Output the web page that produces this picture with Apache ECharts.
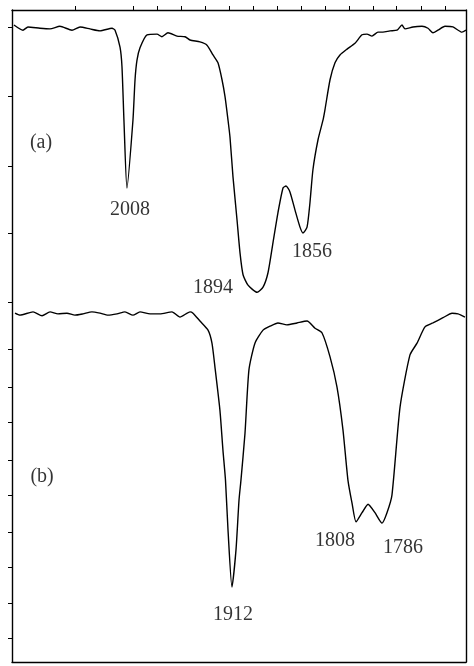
<!DOCTYPE html>
<html>
<head>
<meta charset="utf-8">
<title>IR spectra (a) and (b)</title>
<script src="https://cdn.jsdelivr.net/npm/echarts@6/dist/echarts.min.js"></script>
<style>
  html, body { margin: 0; padding: 0; background: #fff; }
  #chart { width: 474px; height: 666px; }
</style>
</head>
<body>
<div id="chart"></div>
<script>
// wavenumber (cm-1) / relative transmittance, spectrum (a), upper trace
var wavenumberA = [2104.3, 2096.5, 2092.2, 2081.8, 2073.1, 2064.5, 2054.1, 2047.1, 2038.5, 2029.8,
  2019.4, 2016.8, 2012.5, 2010.8, 2009.1, 2006.5, 2001.3, 1999.5, 1997.8, 1995.2,
  1989.1, 1980.5, 1976.2, 1971.0, 1963.2, 1956.2, 1951.9, 1943.3, 1937.2, 1932.0,
  1927.7, 1924.2, 1921.6, 1919.0, 1917.3, 1914.7, 1911.2, 1908.6, 1906.0, 1901.7,
  1893.9, 1888.7, 1884.4, 1880.1, 1875.8, 1871.4, 1868.8, 1865.4, 1861.0, 1856.7,
  1854.1, 1850.6, 1848.1, 1845.5, 1841.1, 1836.8, 1835.1, 1830.7, 1826.4, 1822.1,
  1816.0, 1809.1, 1803.0, 1798.7, 1794.4, 1789.2, 1784.9, 1778.8, 1772.7, 1768.4,
  1765.8, 1758.9, 1751.1, 1745.9, 1741.6, 1737.3, 1731.2, 1724.3, 1716.5, 1713.0];
var transA = [97.7, 96.9, 97.4, 97.2, 97.1, 97.5, 96.9, 97.4, 97.1, 96.8,
  97.2, 96.9, 94.3, 91.3, 83.1, 72.7, 83.1, 89.3, 92.3, 94.2,
  96.2, 96.3, 95.9, 96.5, 96.0, 95.9, 95.4, 95.1, 94.6, 93.1,
  91.9, 89.3, 86.7, 83.1, 80.5, 74.4, 67.8, 62.7, 59.4, 57.8,
  56.7, 57.5, 59.7, 64.3, 68.9, 72.7, 73.0, 72.1, 69.3, 66.7,
  65.8, 66.7, 70.4, 75.5, 80.1, 83.1, 84.7, 89.3, 91.9, 93.1,
  94.0, 94.9, 96.2, 96.3, 96.0, 96.6, 96.6, 96.8, 96.9, 97.7,
  97.1, 97.4, 97.5, 97.2, 96.5, 96.9, 97.5, 97.4, 96.6, 96.9];

// spectrum (b), lower trace
var wavenumberB = [2103.4, 2099.1, 2087.8, 2080.0, 2073.1, 2066.2, 2058.4, 2051.5, 2044.5, 2036.8,
  2029.8, 2022.9, 2015.1, 2008.2, 2001.3, 1995.2, 1986.5, 1977.9, 1967.5, 1960.6,
  1951.9, 1949.3, 1943.3, 1936.3, 1932.9, 1930.3, 1926.0, 1923.4, 1921.2, 1919.0,
  1915.6, 1912.1, 1909.5, 1907.8, 1904.3, 1900.9, 1895.7, 1888.7, 1882.7, 1875.8,
  1868.0, 1859.3, 1850.6, 1843.7, 1837.7, 1830.7, 1824.7, 1819.5, 1815.2, 1811.7,
  1808.2, 1803.0, 1797.8, 1791.8, 1785.7, 1781.4, 1777.1, 1770.1, 1761.5, 1755.4,
  1748.5, 1741.6, 1732.9, 1725.1, 1719.9, 1713.9];
var transB = [53.5, 53.2, 53.7, 53.1, 53.7, 53.4, 53.5, 53.2, 53.4, 53.7,
  53.5, 53.2, 53.4, 53.7, 53.2, 53.7, 53.4, 53.4, 53.7, 52.9,
  53.7, 53.5, 52.3, 50.9, 48.9, 45.2, 38.6, 32.5, 27.9, 20.2,
  11.5, 17.2, 24.8, 27.9, 35.1, 44.8, 48.9, 50.9, 51.5, 52.0,
  51.7, 52.0, 52.3, 51.2, 50.5, 46.8, 42.2, 35.6, 27.9, 24.4,
  21.5, 22.9, 24.2, 22.9, 21.3, 22.9, 25.6, 39.1, 47.1, 48.9,
  51.4, 52.0, 52.8, 53.5, 53.4, 52.9];

// tick marks on the frame
var topTicks = [2051.5, 2001.3, 1980.5, 1959.7, 1938.9, 1918.2, 1897.4, 1876.6, 1855.8,
  1835.1, 1814.3, 1793.5, 1773.6, 1752.0, 1731.2];
var leftTicks = [97.4, 86.7, 76.1, 65.8, 55.2, 48.0, 42.2, 36.7, 31.0, 25.5, 19.9, 14.6, 9.0, 3.7];

// peak annotations
var labelText = ['(a)', '2008', '1894', '1856', '(b)', '1808', '1786', '1912'];
var labelX = [2080.9, 2003.9, 1932.0, 1846.3, 2080.0, 1826.4, 1767.6, 1914.7];
var labelY = [79.6, 69.3, 57.4, 62.9, 28.4, 18.6, 17.5, 7.2];

function pairs(xs, ys) {
  return xs.map(function (x, i) { return [x, ys[i]]; });
}

var ink = '#000';
var chart = echarts.init(document.getElementById('chart'));

chart.setOption({
  backgroundColor: '#fff',
  animation: false,
  grid: { left: 12, right: 8, top: 10, bottom: 4 },
  xAxis: [
    {
      type: 'value', position: 'top', min: 1713, max: 2106, inverse: true,
      axisLine: { show: true, onZero: false, lineStyle: { color: ink, width: 1.4 } },
      axisTick: { show: true, length: 4, customValues: topTicks, lineStyle: { color: ink, width: 1 } },
      axisLabel: { show: false },
      splitLine: { show: false }
    },
    {
      type: 'value', position: 'bottom', min: 1713, max: 2106, inverse: true,
      axisLine: { show: true, onZero: false, lineStyle: { color: ink, width: 1.4 } },
      axisTick: { show: false },
      axisLabel: { show: false },
      splitLine: { show: false }
    }
  ],
  yAxis: [
    {
      type: 'value', position: 'left', min: 0, max: 100,
      axisLine: { show: true, onZero: false, lineStyle: { color: ink, width: 1.4 } },
      axisTick: { show: true, length: 4, customValues: leftTicks, lineStyle: { color: ink, width: 1 } },
      axisLabel: { show: false },
      splitLine: { show: false }
    },
    {
      type: 'value', position: 'right', min: 0, max: 100,
      axisLine: { show: true, onZero: false, lineStyle: { color: ink, width: 1.4 } },
      axisTick: { show: false },
      axisLabel: { show: false },
      splitLine: { show: false }
    }
  ],
  series: [
    {
      name: '(a)', type: 'line', showSymbol: false, smooth: 0.2,
      data: pairs(wavenumberA, transA),
      lineStyle: { color: ink, width: 1.4 }
    },
    {
      name: '(b)', type: 'line', showSymbol: false, smooth: 0.2,
      data: pairs(wavenumberB, transB),
      lineStyle: { color: ink, width: 1.4 }
    },
    {
      name: 'labels', type: 'scatter', symbolSize: 0,
      data: labelText.map(function (t, i) { return { value: [labelX[i], labelY[i]], name: t }; }),
      label: {
        show: true, position: 'inside', formatter: '{b}',
        color: '#000', fontFamily: 'Liberation Serif', fontSize: 20
      }
    }
  ]
});
</script>
</body>
</html>
